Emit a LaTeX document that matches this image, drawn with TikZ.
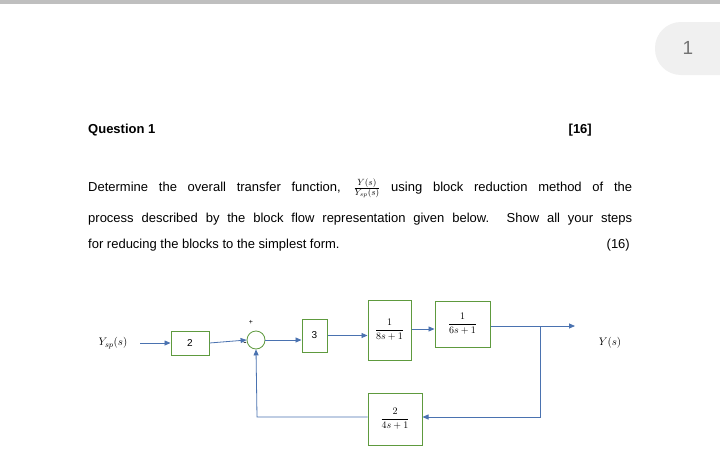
\documentclass[tikz,border=0pt]{standalone}
\usepackage{amsmath}
\usepackage{fontspec}
\setmainfont{Liberation Sans}
\usetikzlibrary{arrows.meta}
\definecolor{bgreen}{HTML}{5E9A3E}
\definecolor{ablue}{HTML}{4A72B0}
\begin{document}
\begin{tikzpicture}[x=1pt,y=-1pt,
  blk/.style={draw=bgreen,line width=1pt,inner sep=0pt,font=\fontsize{10}{11}\selectfont},
  con/.style={draw=ablue,line width=0.8pt},
  arr/.style={con,-{Triangle[length=6pt,width=5pt]}},
  txt/.style={anchor=base west,inner sep=0pt,font=\fontsize{13}{15}\selectfont}]
\useasboundingbox (0,0) rectangle (720,455);
\fill[white] (0,0) rectangle (720,455);
\fill[black!25] (0,0) rectangle (720,4);
\fill[black!6,rounded corners=26pt] (655,22) rectangle (760,75);
\node[text=black!55,font=\fontsize{19}{20}\selectfont] (pg) at (688,48) {1};
\node[txt,font=\bfseries\fontsize{13}{15}\selectfont] (q) at (88,133) {Question 1};
\node[txt,anchor=base east,font=\bfseries\fontsize{13}{15}\selectfont] (m) at (592,133) {[16]};
\node[txt] (l1) at (88,191) {\makebox[544pt][s]{Determine the overall transfer function, \(\frac{Y(s)}{Y_{sp}(s)}\) using block reduction method of the}};
\node[txt] (l2) at (88,222) {\makebox[544pt][s]{process described by the block flow representation given below. Show all your steps}};
\node[txt] (l3) at (88,248) {for reducing the blocks to the simplest form.};
\node[txt,anchor=base east] (l3r) at (630,248) {(16)};
% diagram
\node[font=\fontsize{11}{12}\selectfont] (ysp) at (113,343) {$Y_{sp}(s)$};
\node[blk,minimum width=38pt,minimum height=24pt] (b2) at (190,343) {2};
\node[draw=bgreen,circle,minimum size=18pt,inner sep=0pt,line width=0.8pt] (sum) at (256,340) {};
\node[font=\scriptsize] (plus) at (251,322) {+};
\node[font=\normalsize] (minus) at (245,344) {-};
\node[blk,minimum width=25pt,minimum height=33pt] (b3) at (314.5,335.5) {3};
\node[blk,minimum width=43pt,minimum height=60pt] (b8) at (389.5,330) {$\dfrac{1}{8s+1}$};
\node[blk,minimum width=55pt,minimum height=46pt] (b6) at (462.5,324) {$\dfrac{1}{6s+1}$};
\node[blk,minimum width=54pt,minimum height=52pt] (b4) at (395,419) {$\dfrac{2}{4s+1}$};
\node[font=\fontsize{11}{12}\selectfont] (ys) at (610,343) {$Y(s)$};
\coordinate (in) at (140,343);
\coordinate (out) at (575,326);
\coordinate (br) at (540,326);
\coordinate (fb) at (257,417);
\draw[arr] (in) -- (b2.west);
\draw[arr] (b2.east) -- (sum.west);
\draw[arr] (sum.east) -- (b3.west |- sum.east);
\draw[arr] (b3.east) -- (b8.west |- b3.east);
\draw[arr] (b8.east |- 0,329) -- (b6.west |- 0,329);
\draw[arr] (b6.east |- out) -- (out);
\draw[arr] (br) |- (b4.east |- 0,417);
\draw[arr] (b4.west |- fb) -- (fb) -- (sum.south);
\end{tikzpicture}
\end{document}
